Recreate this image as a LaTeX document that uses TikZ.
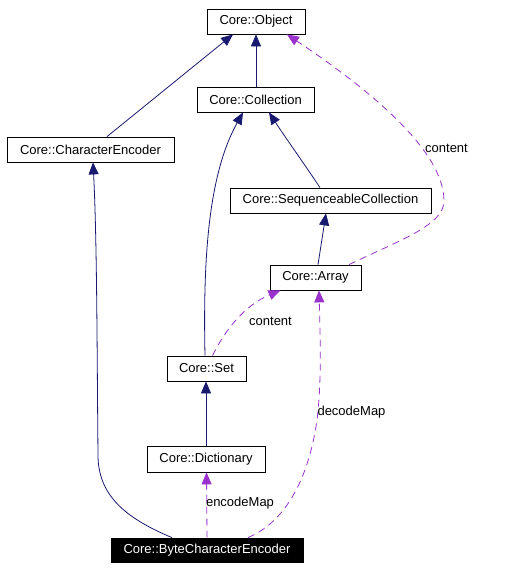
\documentclass[tikz,border=0pt]{standalone}
\usepackage{fontspec}
\setmainfont{Liberation Sans}
\usetikzlibrary{arrows.meta}
\definecolor{navyedge}{RGB}{25,25,112}
\definecolor{purpedge}{RGB}{154,50,205}
\begin{document}
\begin{tikzpicture}[x=1pt,y=-1pt,
  cls/.style={draw=black,fill=white,line width=0.8pt,inner sep=0pt,minimum height=25pt,font=\fontsize{13}{15}\selectfont},
  focus/.style={cls,fill=black,text=white},
  inh/.style={draw=navyedge,line width=0.8pt,-{Triangle[length=12pt,width=10pt]},color=navyedge},
  use/.style={draw=purpedge,line width=0.8pt,dash pattern=on 7pt off 5pt,-{Triangle[length=12pt,width=10pt]},color=purpedge},
  lbl/.style={inner sep=0pt,font=\fontsize{13}{15}\selectfont}]
\useasboundingbox[fill=white] (0,0) rectangle (520,570);
\node[cls,minimum width=98pt] (obj) at (256,21.5) {Core::Object};
\node[cls,minimum width=117pt] (col) at (255.5,99.5) {Core::Collection};
\node[cls,minimum width=167pt] (ce) at (90.5,149.5) {Core::CharacterEncoder};
\node[cls,minimum width=201pt] (seq) at (330.5,200.5) {Core::SequenceableCollection};
\node[cls,minimum width=91pt] (arr) at (315.5,277.5) {Core::Array};
\node[cls,minimum width=79pt] (set) at (206.5,368.5) {Core::Set};
\node[cls,minimum width=118pt,minimum height=26pt] (dict) at (206,459) {Core::Dictionary};
\node[focus,minimum width=192pt,minimum height=24pt] (bce) at (207,550) {Core::ByteCharacterEncoder};
% inheritance
\draw[inh] ([xshift=16.5pt]ce.north) -- ([xshift=-23pt]obj.south);
\draw[inh] ([xshift=0.5pt]col.north) -- (obj.south);
\draw[inh] ([xshift=-10.5pt]seq.north) .. controls (305,165) and (285,137) .. ([xshift=13.5pt]col.south);
\draw[inh] ([xshift=-1.5pt]set.north) .. controls (203,260) and (208,175) .. ([xshift=-12.5pt]col.south);
\draw[inh] ([xshift=2.5pt]arr.north) -- ([xshift=-4.5pt]seq.south);
\draw[inh] (dict.north) -- ([xshift=-0.5pt]set.south);
\draw[inh] ([xshift=-35pt]bce.north) .. controls (125,518) and (98,495) .. (98,455) .. controls (97,350) and (97,240) .. ([xshift=2.5pt]ce.south);
% usage
\draw[use] ([xshift=33.5pt]arr.north) .. controls (400,240) and (445,225) .. (444,200) .. controls (443,150) and (370,90) .. ([xshift=31pt]obj.south);
\node[lbl] (l1) at (446.5,148) {content};
\draw[use] ([xshift=6pt]set.north) .. controls (225,330) and (245,305) .. ([xshift=-35pt]arr.south);
\node[lbl] (l2) at (270.5,321.5) {content};
\draw[use] ([xshift=41pt]bce.north) .. controls (290,520) and (310,470) .. (317,420) .. controls (322,380) and (320,330) .. ([xshift=3.5pt]arr.south);
\node[lbl] (l3) at (351.5,412.5) {decodeMap};
\draw[use] (bce.north) -- ([xshift=0.5pt]dict.south);
\node[lbl] (l4) at (240,503.5) {encodeMap};
\end{tikzpicture}
\end{document}
